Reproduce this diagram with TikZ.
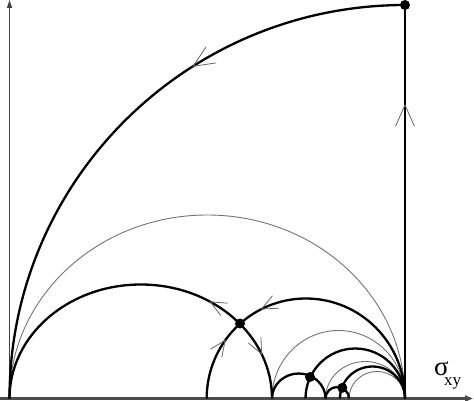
\documentclass[tikz,border=0pt]{standalone}
\usepackage{fontspec}
\setmainfont{Liberation Serif}
\usetikzlibrary{arrows.meta}
\newcommand{\flowv}[7]{% cx cy a b theta dir len
  \pgfmathsetmacro{\fpx}{#1+#3*cos(#5)}%
  \pgfmathsetmacro{\fpy}{#2+#4*sin(#5)}%
  \pgfmathsetmacro{\fang}{atan2((#6)*#4*cos(#5), (-1)*(#6)*#3*sin(#5))}%
  \draw[arrowln] (\fpx,\fpy) ++(\fang+156:#7) -- (\fpx,\fpy) -- +(\fang+204:#7);%
}
\begin{document}
\begin{tikzpicture}[x=1pt,y=1pt,
  thickc/.style={line width=2.3pt, black},
  thinc/.style={line width=0.9pt, black!55},
  arrowln/.style={line width=0.8pt, black!60, line cap=round},
  dotc/.style={circle, fill=black, inner sep=0pt, minimum size=10pt}]
\useasboundingbox (0,0) rectangle (474,400);
% axes
\draw[line width=2.4pt, black!70, -{Triangle[length=8pt,width=6pt]}] (0,1.5) -- (473,1.5);
\draw[line width=1.3pt, black!75, -{Triangle[length=8pt,width=5pt]}] (9.5,1.5) -- (9.5,400);
% thin curves
\draw[thinc] (9.5,1.5) arc[start angle=180,end angle=0,x radius=197.75,y radius=183.5];
\draw[thinc] (272,1.5) arc[start angle=180,end angle=0,x radius=66.5,y radius=68];
\draw[thinc] (325.5,1.5) arc[start angle=180,end angle=0,x radius=39.75,y radius=37];
\draw[thinc] (349,1.5) arc[start angle=180,end angle=0,x radius=28,y radius=27];
% thick curves
\draw[thickc] (9.5,1.5) arc[start angle=180,end angle=90,x radius=395.5,y radius=393.5];
\draw[thickc] (405,1.5) -- (405,395);
\draw[thickc] (9.5,1.5) arc[start angle=180,end angle=0,x radius=131.25,y radius=114];
\draw[thickc] (206.7,1.5) arc[start angle=180,end angle=0,x radius=99.15,y radius=100];
\draw[thickc] (272,1.5) arc[start angle=180,end angle=0,x radius=26.75,y radius=25];
\draw[thickc] (305.5,1.5) arc[start angle=180,end angle=0,x radius=49.75,y radius=50];
\draw[thickc] (325.5,1.5) arc[start angle=180,end angle=0,x radius=11.75,y radius=11.5];
\draw[thickc] (340,1.5) arc[start angle=180,end angle=0,x radius=32.5,y radius=32];
% flow arrows
\flowv{405}{1.5}{395.5}{393.5}{122.4}{1}{23}
\draw[arrowln] (405,295) ++(246:23) -- (405,295) -- +(294:23);
\flowv{140.75}{1.5}{131.25}{114}{58}{1}{17}
\flowv{140.75}{1.5}{131.25}{114}{23}{-1}{17}
\flowv{305.85}{1.5}{99.15}{100}{144.5}{-1}{17}
\flowv{305.85}{1.5}{99.15}{100}{116.5}{1}{17}
% fixed points
\node[dotc] (p0) at (405,395) {};
\node[dotc] (p1) at (240,76.5) {};
\node[dotc] (p2) at (310,23) {};
\node[dotc] (p3) at (342.3,12.2) {};
% label
\node[anchor=base west, inner sep=0pt] (sig) at (434,25)
  {\fontsize{27}{27}\selectfont\makebox[10pt][l]{σ}\raisebox{-10pt}{\fontsize{17}{17}\selectfont xy}};
\end{tikzpicture}
\end{document}
